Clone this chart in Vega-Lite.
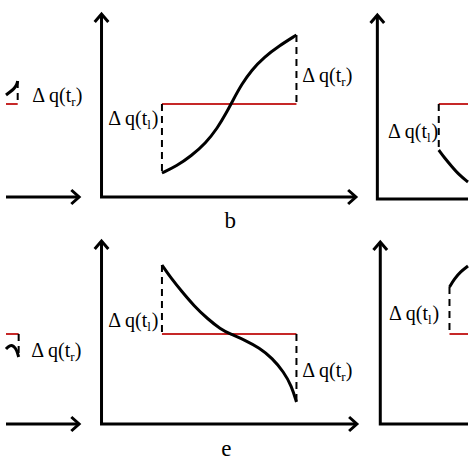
{
  "$schema": "https://vega.github.io/schema/vega-lite/v6.json",
  "description": "Six schematic panels of the offset dq between left and right ends of a segment.",
  "width": 474,
  "height": 474,
  "autosize": {"type": "fit", "contains": "padding"},
  "padding": 0,
  "background": "white",
  "view": {"stroke": null},
  "datasets": {
    "axes": [
      {"id": "a_x", "o": 1, "x": 0, "y": 197}, {"id": "a_x", "o": 2, "x": 75, "y": 197},
      {"id": "a_xh", "o": 1, "x": 67, "y": 190}, {"id": "a_xh", "o": 2, "x": 75, "y": 197}, {"id": "a_xh", "o": 3, "x": 67, "y": 204},
      {"id": "b_ax", "o": 1, "x": 98, "y": 14}, {"id": "b_ax", "o": 2, "x": 98, "y": 197}, {"id": "b_ax", "o": 3, "x": 359, "y": 197},
      {"id": "b_yh", "o": 1, "x": 91, "y": 22}, {"id": "b_yh", "o": 2, "x": 98, "y": 14}, {"id": "b_yh", "o": 3, "x": 105, "y": 22},
      {"id": "b_xh", "o": 1, "x": 351, "y": 190}, {"id": "b_xh", "o": 2, "x": 359, "y": 197}, {"id": "b_xh", "o": 3, "x": 351, "y": 204},
      {"id": "c_ax", "o": 1, "x": 381, "y": 15}, {"id": "c_ax", "o": 2, "x": 381, "y": 199}, {"id": "c_ax", "o": 3, "x": 474, "y": 199},
      {"id": "c_yh", "o": 1, "x": 374, "y": 23}, {"id": "c_yh", "o": 2, "x": 381, "y": 15}, {"id": "c_yh", "o": 3, "x": 388, "y": 23},
      {"id": "d_x", "o": 1, "x": 0, "y": 424}, {"id": "d_x", "o": 2, "x": 75, "y": 424},
      {"id": "d_xh", "o": 1, "x": 67, "y": 417}, {"id": "d_xh", "o": 2, "x": 75, "y": 424}, {"id": "d_xh", "o": 3, "x": 67, "y": 431},
      {"id": "e_ax", "o": 1, "x": 98, "y": 241}, {"id": "e_ax", "o": 2, "x": 98, "y": 424}, {"id": "e_ax", "o": 3, "x": 360, "y": 424},
      {"id": "e_yh", "o": 1, "x": 91, "y": 249}, {"id": "e_yh", "o": 2, "x": 98, "y": 241}, {"id": "e_yh", "o": 3, "x": 105, "y": 249},
      {"id": "e_xh", "o": 1, "x": 352, "y": 417}, {"id": "e_xh", "o": 2, "x": 360, "y": 424}, {"id": "e_xh", "o": 3, "x": 352, "y": 431},
      {"id": "f_ax", "o": 1, "x": 384, "y": 242}, {"id": "f_ax", "o": 2, "x": 384, "y": 424}, {"id": "f_ax", "o": 3, "x": 474, "y": 424},
      {"id": "f_yh", "o": 1, "x": 377, "y": 250}, {"id": "f_yh", "o": 2, "x": 384, "y": 242}, {"id": "f_yh", "o": 3, "x": 391, "y": 250}
    ],
    "curves": [
      {"id": "a", "x": 0, "y": 95}, {"id": "a", "x": 4, "y": 92}, {"id": "a", "x": 8, "y": 89}, {"id": "a", "x": 11, "y": 85}, {"id": "a", "x": 12, "y": 81},
      {"id": "b", "x": 160, "y": 173}, {"id": "b", "x": 175, "y": 166}, {"id": "b", "x": 190, "y": 156}, {"id": "b", "x": 205, "y": 143},
      {"id": "b", "x": 217, "y": 128}, {"id": "b", "x": 226, "y": 113}, {"id": "b", "x": 233, "y": 100}, {"id": "b", "x": 242, "y": 84},
      {"id": "b", "x": 252, "y": 70}, {"id": "b", "x": 265, "y": 57}, {"id": "b", "x": 280, "y": 46}, {"id": "b", "x": 298, "y": 35},
      {"id": "c", "x": 444, "y": 150}, {"id": "c", "x": 450, "y": 158}, {"id": "c", "x": 457, "y": 166}, {"id": "c", "x": 465, "y": 175}, {"id": "c", "x": 474, "y": 182},
      {"id": "d", "x": 0, "y": 349}, {"id": "d", "x": 4, "y": 345}, {"id": "d", "x": 8, "y": 346}, {"id": "d", "x": 11, "y": 350}, {"id": "d", "x": 13, "y": 357},
      {"id": "e", "x": 160, "y": 265}, {"id": "e", "x": 170, "y": 279}, {"id": "e", "x": 180, "y": 291}, {"id": "e", "x": 193, "y": 306},
      {"id": "e", "x": 207, "y": 319}, {"id": "e", "x": 220, "y": 329}, {"id": "e", "x": 230, "y": 334}, {"id": "e", "x": 245, "y": 340},
      {"id": "e", "x": 260, "y": 348}, {"id": "e", "x": 273, "y": 358}, {"id": "e", "x": 285, "y": 372}, {"id": "e", "x": 293, "y": 386},
      {"id": "e", "x": 298, "y": 402},
      {"id": "f", "x": 455, "y": 287}, {"id": "f", "x": 460, "y": 279}, {"id": "f", "x": 466, "y": 272}, {"id": "f", "x": 474, "y": 266}
    ],
    "refs": [
      {"id": "a", "x": 0, "y": 104}, {"id": "a", "x": 12, "y": 104},
      {"id": "b", "x": 160, "y": 104}, {"id": "b", "x": 298, "y": 104},
      {"id": "c", "x": 444, "y": 104}, {"id": "c", "x": 474, "y": 104},
      {"id": "d", "x": 0, "y": 334}, {"id": "d", "x": 13, "y": 334},
      {"id": "e", "x": 160, "y": 334}, {"id": "e", "x": 298, "y": 334},
      {"id": "f", "x": 455, "y": 334}, {"id": "f", "x": 474, "y": 334}
    ],
    "dashes": [
      {"id": "a_r", "o": 1, "x": 12, "y": 81}, {"id": "a_r", "o": 2, "x": 12, "y": 104},
      {"id": "b_l", "o": 1, "x": 160, "y": 104}, {"id": "b_l", "o": 2, "x": 160, "y": 173},
      {"id": "b_r", "o": 1, "x": 298, "y": 35}, {"id": "b_r", "o": 2, "x": 298, "y": 104},
      {"id": "c_l", "o": 1, "x": 444, "y": 104}, {"id": "c_l", "o": 2, "x": 444, "y": 150},
      {"id": "d_r", "o": 1, "x": 13, "y": 334}, {"id": "d_r", "o": 2, "x": 13, "y": 357},
      {"id": "e_l", "o": 1, "x": 160, "y": 265}, {"id": "e_l", "o": 2, "x": 160, "y": 334},
      {"id": "e_r", "o": 1, "x": 298, "y": 334}, {"id": "e_r", "o": 2, "x": 298, "y": 402},
      {"id": "f_l", "o": 1, "x": 455, "y": 287}, {"id": "f_l", "o": 2, "x": 455, "y": 334}
    ],
    "labels": [
      {"x": 67, "y": 102, "sub": "r"},
      {"x": 145, "y": 125, "sub": "l"},
      {"x": 344, "y": 82, "sub": "r"},
      {"x": 432, "y": 138, "sub": "l"},
      {"x": 66, "y": 357, "sub": "r"},
      {"x": 145, "y": 327, "sub": "l"},
      {"x": 344, "y": 377, "sub": "r"},
      {"x": 433, "y": 320, "sub": "l"}
    ],
    "letters": [
      {"x": 230, "y": 228, "name": "b"},
      {"x": 226, "y": 456, "name": "e"}
    ]
  },
  "encoding": {
    "x": {"field": "x", "type": "quantitative", "scale": {"domain": [0, 474], "nice": false, "zero": false}, "axis": null},
    "y": {"field": "y", "type": "quantitative", "scale": {"domain": [0, 474], "nice": false, "zero": false, "reverse": true}, "axis": null}
  },
  "layer": [
    {
      "data": {"name": "refs"},
      "mark": {"type": "line", "color": "#c62828", "strokeWidth": 2},
      "encoding": {"detail": {"field": "id"}}
    },
    {
      "data": {"name": "dashes"},
      "mark": {"type": "line", "color": "black", "strokeWidth": 2, "strokeDash": [7, 5]},
      "encoding": {"detail": {"field": "id"}, "order": {"field": "o"}}
    },
    {
      "data": {"name": "curves"},
      "mark": {"type": "line", "color": "black", "strokeWidth": 3, "interpolate": "basis"},
      "encoding": {"detail": {"field": "id"}}
    },
    {
      "data": {"name": "axes"},
      "mark": {"type": "line", "color": "black", "strokeWidth": 3, "strokeJoin": "miter", "strokeCap": "butt"},
      "encoding": {"detail": {"field": "id"}, "order": {"field": "o"}}
    },
    {
      "data": {"name": "labels"},
      "mark": {"type": "text", "text": "Δ q(t", "align": "right", "baseline": "alphabetic", "font": "Liberation Serif, DejaVu Serif, serif", "fontSize": 20, "color": "black"}
    },
    {
      "data": {"name": "labels"},
      "mark": {"type": "text", "align": "left", "baseline": "alphabetic", "dx": 0, "dy": 4, "font": "Liberation Serif, DejaVu Serif, serif", "fontSize": 13, "color": "black"},
      "encoding": {"text": {"field": "sub"}}
    },
    {
      "data": {"name": "labels"},
      "mark": {"type": "text", "text": ")", "align": "left", "baseline": "alphabetic", "dx": 4.5, "font": "Liberation Serif, DejaVu Serif, serif", "fontSize": 20, "color": "black"}
    },
    {
      "data": {"name": "letters"},
      "mark": {"type": "text", "align": "center", "baseline": "alphabetic", "font": "Liberation Serif, DejaVu Serif, serif", "fontSize": 23, "color": "black"},
      "encoding": {"text": {"field": "name"}}
    }
  ]
}
